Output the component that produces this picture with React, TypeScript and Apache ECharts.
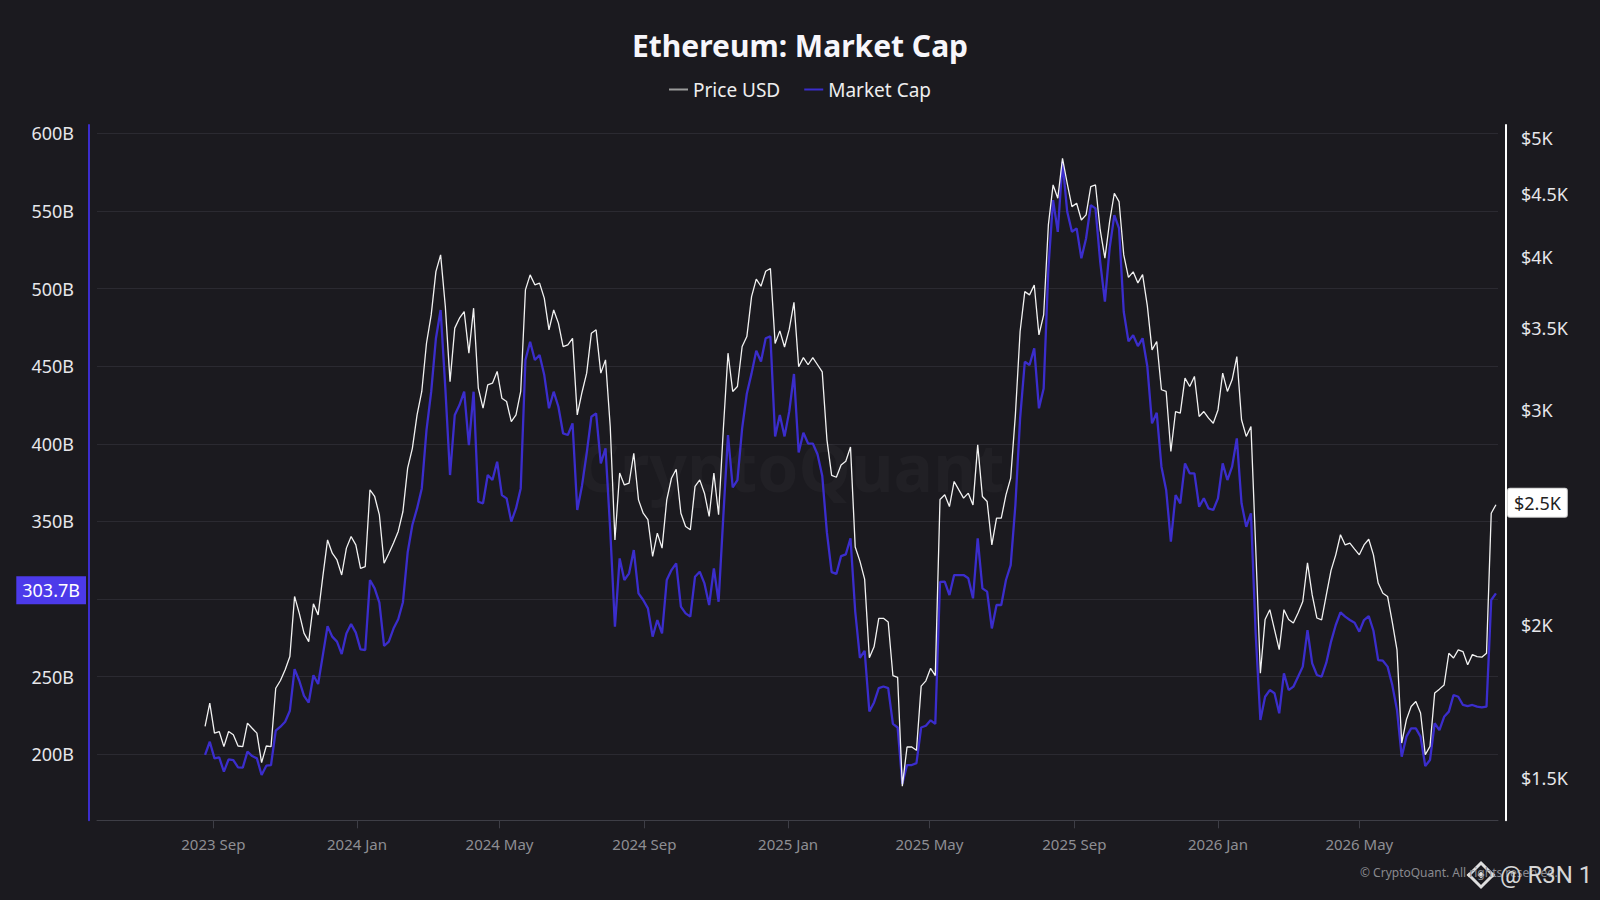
import React, { useEffect, useRef } from "react";
import * as echarts from "echarts";

// ---- data (sampled every 4 days from 2023-08-25) ----
const START_DATE = [2023, 7, 25]; // UTC y, m(0-based), d
const STEP_DAYS = 4;

const priceUsd = [
  1654, 1728, 1633, 1638, 1592, 1638, 1628, 1594, 1592, 1664,
  1648, 1633, 1545, 1594, 1592, 1777, 1803, 1840, 1886, 2112,
  2046, 1971, 1940, 2083, 2040, 2193, 2349, 2291, 2262, 2199,
  2313, 2364, 2327, 2227, 2234, 2581, 2549, 2462, 2248, 2290,
  2335, 2387, 2478, 2689, 2791, 2972, 3106, 3401, 3587, 3892,
  4016, 3644, 3164, 3499, 3565, 3610, 3338, 3633, 3125, 3010,
  3145, 3155, 3225, 3067, 3048, 2935, 2972, 3106, 3760, 3868,
  3796, 3808, 3702, 3488, 3621, 3532, 3380, 3391, 3433, 2972,
  3100, 3215, 3466, 3488, 3215, 3296, 2908, 2349, 2664, 2605,
  2614, 2765, 2533, 2470, 2440, 2277, 2379, 2313, 2533, 2638,
  2683, 2470, 2409, 2394, 2598, 2630, 2565, 2455, 2664, 2463,
  2890, 3338, 3106, 3135, 3380, 3444, 3713, 3837, 3786, 3894,
  3915, 3400, 3481, 3377, 3492, 3673, 3254, 3310, 3266, 3310,
  3266, 3222, 2836, 2652, 2643, 2705, 2724, 2798, 2318, 2257,
  2182, 1882, 1921, 2027, 2027, 2013, 1820, 1814, 1478, 1591,
  1591, 1581, 1784, 1802, 1845, 1820, 2535, 2557, 2501, 2622,
  2581, 2541, 2565, 2509, 2809, 2549, 2525, 2327, 2447, 2447,
  2557, 2639, 2972, 3477, 3748, 3725, 3795, 3455, 3587, 4249,
  4581, 4468, 4817, 4595, 4398, 4426, 4289, 4330, 4567, 4581,
  4209, 3991, 4276, 4510, 4440, 4016, 3850, 3890, 3810, 3870,
  3650, 3359, 3412, 3116, 3106, 2774, 2991, 2982, 3185, 3135,
  3195, 2963, 2991, 2954, 2926, 3000, 3215, 3106, 3175, 3317,
  2945, 2854, 2908, 2320, 1828, 2022, 2060, 1984, 1911, 2060,
  2022, 2009, 2047, 2092, 2250, 2118, 2028, 2021, 2118, 2218,
  2284, 2372, 2327, 2335, 2309, 2284, 2327, 2352, 2284, 2166,
  2125, 2112, 2012, 1910, 1603, 1675, 1717, 1733, 1696, 1568,
  1593, 1761, 1774, 1788, 1898, 1881, 1910, 1904, 1857, 1893,
  1886, 1884, 1898, 2470, 2510,
];

const marketCapB = [
  199.6, 208.1, 197.4, 198.0, 188.8, 196.8, 196.3, 191.6, 191.4, 201.7,
  198.9, 197.4, 186.7, 192.7, 193.1, 215.2, 217.8, 221.0, 228.1, 254.9,
  247.4, 237.6, 233.3, 250.9, 245.3, 263.9, 282.6, 275.8, 272.6, 264.6,
  277.9, 283.9, 278.4, 267.6, 267.2, 312.3, 306.9, 297.7, 269.8, 272.6,
  281.0, 287.0, 298.0, 330.0, 347.7, 358.4, 371.3, 408.9, 433.6, 467.9,
  486.2, 435.7, 379.9, 418.6, 425.0, 433.6, 399.2, 433.6, 362.7, 361.7,
  379.9, 376.7, 388.5, 367.0, 364.9, 349.9, 358.4, 371.3, 454.0, 465.8,
  454.0, 457.2, 444.3, 422.9, 433.6, 423.9, 406.7, 405.7, 413.2, 357.4,
  372.9, 393.9, 417.5, 419.6, 387.4, 397.1, 344.5, 282.2, 326.2, 312.3,
  316.6, 331.6, 303.7, 299.4, 294.0, 275.8, 286.5, 277.9, 312.3, 318.7,
  323.0, 295.1, 290.8, 288.7, 314.4, 317.6, 310.1, 296.2, 319.8, 298.3,
  353.1, 405.7, 372.0, 376.7, 410.0, 432.5, 445.4, 460.0, 453.1, 468.0,
  469.2, 404.8, 418.6, 404.8, 420.9, 445.0, 394.4, 407.1, 400.2, 400.2,
  393.3, 379.5, 342.6, 317.4, 316.2, 327.7, 328.8, 339.2, 292.0, 262.1,
  266.7, 227.6, 233.4, 242.6, 243.7, 242.6, 219.6, 217.3, 181.0, 193.1,
  193.1, 194.3, 217.3, 218.4, 221.9, 219.6, 311.0, 311.2, 302.6, 315.5,
  315.5, 315.5, 313.4, 300.5, 339.1, 306.9, 304.8, 281.1, 296.2, 296.2,
  312.3, 321.9, 360.6, 416.4, 452.9, 450.8, 461.5, 422.9, 435.7, 513.0,
  557.0, 536.6, 581.7, 549.5, 536.6, 538.8, 519.5, 532.3, 553.8, 551.7,
  517.3, 491.6, 525.9, 547.4, 538.8, 485.1, 466.0, 470.0, 463.0, 468.0,
  450.0, 413.2, 420.0, 385.3, 370.3, 337.0, 367.0, 361.7, 387.4, 381.0,
  381.0, 359.5, 364.9, 358.4, 357.4, 364.9, 387.4, 376.7, 385.3, 403.5,
  361.7, 346.6, 355.2, 277.9, 222.1, 237.1, 241.4, 239.3, 226.4, 252.2,
  241.4, 243.6, 250.0, 256.5, 280.0, 258.6, 251.1, 250.0, 259.0, 272.6,
  283.3, 291.5, 288.7, 286.5, 284.8, 279.0, 286.5, 289.1, 279.6, 260.7,
  260.3, 256.5, 244.6, 228.5, 198.5, 211.4, 216.7, 216.7, 211.4, 192.5,
  196.3, 220.0, 215.6, 224.2, 227.5, 238.2, 237.1, 231.8, 231.1, 231.8,
  230.7, 230.2, 230.7, 299.4, 303.7,
];

const xTickDates = [
  [2023, 8, 1], [2024, 0, 1], [2024, 4, 1], [2024, 8, 1], [2025, 0, 1],
  [2025, 4, 1], [2025, 8, 1], [2026, 0, 1], [2026, 4, 1],
];
const monthNames = ["Jan", "Feb", "Mar", "Apr", "May", "Jun", "Jul", "Aug", "Sep", "Oct", "Nov", "Dec"];
const capTicks = [200, 250, 300, 350, 400, 450, 500, 550, 600];
// the 300B tick label is covered by the last-value badge in the reference
const capLabelTicks = [200, 250, 350, 400, 450, 500, 550, 600];
const priceTicks = [1500, 2000, 2500, 3000, 3500, 4000, 4500, 5000];
// the $2.5K tick label is covered by the last-value badge in the reference
const priceLabelTicks = [1500, 2000, 3000, 3500, 4000, 4500, 5000];
const capRange = [157.5, 605.4];
const priceRange = [1386, 5128];
const xRange = [Date.UTC(2023, 4, 25, 6), Date.UTC(2026, 7, 26, 18)];

const BG = "#1b1a1f";
const FONT = "Noto Sans";
const BLUE = "#3b2dcc";

export default function App() {
  const ref = useRef<HTMLDivElement>(null);

  useEffect(() => {
    if (!ref.current) return;
    const chart = echarts.init(ref.current, null, { renderer: "svg" });

    const t0 = Date.UTC(START_DATE[0], START_DATE[1], START_DATE[2]);
    const day = 86400000;
    const capData = marketCapB.map((v, i) => [t0 + i * STEP_DAYS * day, v]);
    const priceData = priceUsd.map((v, i) => [t0 + i * STEP_DAYS * day, Math.log(v)]);
    const xTicks = xTickDates.map((d) => Date.UTC(d[0], d[1], d[2]));
    const priceTickLogs = priceTicks.map((v) => Math.log(v));
    const priceLabelLogs = priceLabelTicks.map((v) => Math.log(v));
    const lastCap = marketCapB[marketCapB.length - 1];
    const lastPriceLog = Math.log(priceUsd[priceUsd.length - 1]);

    const fmtPrice = (v: number) => {
      const k = Math.round(Math.exp(v) / 100) / 10;
      return "$" + k + "K";
    };

    const option: any = {
      animation: false,
      backgroundColor: BG,
      textStyle: { fontFamily: FONT },
      title: {
        text: "Ethereum: Market Cap",
        left: "center",
        top: 25,
        padding: 0,
        textStyle: { color: "#f7f6fb", fontSize: 30, fontWeight: "bold", fontFamily: FONT, lineHeight: 40 },
      },
      legend: {
        top: 80,
        left: "center",
        padding: 0,
        icon: "rect",
        itemWidth: 19,
        itemHeight: 2,
        itemGap: 24,
        selectedMode: false,
        textStyle: { color: "#eeeeee", fontSize: 19, fontFamily: FONT },
        data: [
          { name: "Price USD", itemStyle: { color: "#9a9a9a" } },
          { name: "Market Cap", itemStyle: { color: BLUE } },
        ],
      },
      grid: { left: 97, right: 102, top: 125, bottom: 79.7, containLabel: false, outerBoundsMode: "none" },
      xAxis: {
        type: "value",
        min: xRange[0],
        max: xRange[1],
        axisLine: { show: true, lineStyle: { color: "#3e3e46", width: 1 } },
        axisTick: { show: true, length: 8, customValues: xTicks, lineStyle: { color: "#3e3e46" } },
        axisLabel: {
          customValues: xTicks,
          color: "#8e8e93",
          fontSize: 15,
          fontFamily: FONT,
          margin: 16,
          formatter: (v: number) => {
            const d = new Date(v);
            return d.getUTCFullYear() + " " + monthNames[d.getUTCMonth()];
          },
        },
        splitLine: { show: false },
      },
      yAxis: [
        {
          type: "value",
          position: "left",
          offset: 8,
          min: capRange[0],
          max: capRange[1],
          axisLine: { show: true, lineStyle: { color: BLUE, width: 2 } },
          axisTick: { show: false, customValues: capTicks },
          axisLabel: {
            customValues: capLabelTicks,
            color: "#e6e6ea",
            fontSize: 18,
            fontFamily: FONT,
            margin: 15,
            padding: [0, 0, 5, 0],
            formatter: (v: number) => v + "B",
          },
          splitLine: { show: true, lineStyle: { color: "#2b2a31", width: 1 } },
        },
        {
          type: "value",
          position: "right",
          offset: 8,
          min: Math.log(priceRange[0]),
          max: Math.log(priceRange[1]),
          axisLine: { show: true, lineStyle: { color: "#ffffff", width: 2 } },
          axisTick: { show: false, customValues: priceTickLogs },
          axisLabel: {
            customValues: priceLabelLogs,
            color: "#e6e6ea",
            fontSize: 18,
            fontFamily: FONT,
            margin: 15,
            padding: [0, 0, 4, 0],
            formatter: fmtPrice,
          },
          splitLine: { show: false },
        },
      ],
      series: [
        {
          name: "Market Cap",
          type: "line",
          yAxisIndex: 0,
          data: capData,
          showSymbol: false,
          color: BLUE,
          lineStyle: { color: BLUE, width: 2.3 },
          z: 3,
        },
        {
          name: "Price USD",
          type: "line",
          yAxisIndex: 1,
          data: priceData,
          showSymbol: false,
          color: "#f2f2f2",
          lineStyle: { color: "#f2f2f2", width: 1.3 },
          z: 4,
        },
      ],
    };

    chart.setOption(option);

    // end-value badges placed on the axes through the library's own scales
    const capY = chart.convertToPixel({ yAxisIndex: 0 }, lastCap) as number;
    const priceY = chart.convertToPixel({ yAxisIndex: 1 }, lastPriceLog) as number;

    chart.setOption({
      graphic: [
        {
          type: "text",
          z: 1,
          silent: true,
          x: 791,
          y: 466,
          style: {
            text: "CryptoQuant",
            fill: "rgba(255,255,255,0.028)",
            font: "bold 66px 'Noto Sans'",
            align: "center",
            verticalAlign: "middle",
          },
        },
        {
          type: "text",
          z: 20,
          x: 86,
          y: capY - 3,
          style: {
            text: lastCap.toFixed(1) + "B",
            fill: "#ffffff",
            font: "18px 'Noto Sans'",
            align: "right",
            verticalAlign: "middle",
            backgroundColor: "#4c3aea",
            padding: [5, 6, 5, 6],
          },
        },
        {
          type: "text",
          z: 20,
          x: 1508,
          y: priceY - 2,
          style: {
            text: fmtPrice(lastPriceLog),
            fill: "#222222",
            font: "18px 'Noto Sans'",
            align: "left",
            verticalAlign: "middle",
            backgroundColor: "#ffffff",
            borderColor: "#cfcfcf",
            borderWidth: 1,
            borderRadius: 2,
            padding: [5, 6, 5, 6],
          },
        },
        {
          type: "text",
          z: 10,
          x: 1360,
          y: 872,
          style: {
            text: "\u00a9 CryptoQuant. All rights reserved.",
            fill: "#8a8a8f",
            font: "12px 'Noto Sans'",
            verticalAlign: "middle",
          },
        },
        {
          type: "group",
          z: 11,
          x: 1481,
          y: 875,
          children: [
            {
              type: "polygon",
              shape: { points: [[0, -12], [12, 0], [0, 12], [-12, 0]] },
              style: { fill: "none", stroke: "#dedede", lineWidth: 3 },
            },
            {
              type: "polygon",
              shape: { points: [[0, -3.5], [3.5, 0], [0, 3.5], [-3.5, 0]] },
              style: { fill: "#dedede" },
            },
            {
              type: "polygon",
              shape: { points: [[-12, -2.5], [-9.5, 0], [-12, 2.5], [-14.5, 0]] },
              style: { fill: "#dedede" },
            },
            {
              type: "polygon",
              shape: { points: [[12, -2.5], [14.5, 0], [12, 2.5], [9.5, 0]] },
              style: { fill: "#dedede" },
            },
          ],
        },
        {
          type: "text",
          z: 11,
          x: 1500,
          y: 875,
          style: {
            text: "@ R3N 1",
            fill: "#d6d6d6",
            font: "24px Roboto",
            verticalAlign: "middle",
          },
        },
      ],
    });

    return () => chart.dispose();
  }, []);

  return (
    <div
      ref={ref}
      style={{ position: "fixed", left: 0, top: 0, width: 1600, height: 900, background: BG }}
    />
  );
}
